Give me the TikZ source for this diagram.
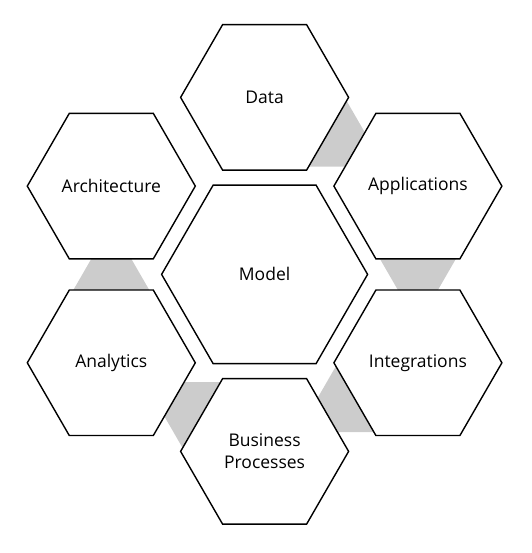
\documentclass[tikz,border=0pt]{standalone}
\usepackage{fontspec}
\setmainfont{Open Sans}
\usetikzlibrary{shapes.geometric,calc}
\definecolor{tipgray}{RGB}{204,204,204}
\begin{document}
\begin{tikzpicture}[x=1pt,y=1pt,
  hexa/.style={regular polygon, regular polygon sides=6, draw=black, line width=1.4pt,
    fill=white, inner sep=0pt, minimum size=168pt, align=center,
    font=\fontsize{17.5}{21.7}\selectfont},
  bighexa/.style={hexa, minimum size=206pt},
  tip/.style={fill=tipgray}]
\useasboundingbox (0,0) rectangle (531,553);
% centres
\coordinate (cM) at (264.6,278.6);
\coordinate (cD) at (264.6,455.6);
\coordinate (cAp) at (417.9,366.9);
\coordinate (cI) at (417.9,190.2);
\coordinate (cB) at (264.6,101.6);
\coordinate (cAn) at (111.3,190.2);
\coordinate (cAr) at (111.3,366.9);
% grey connecting tips
\fill[tip] ($(cD)+(-30:138.56)$) -- ($(cD)+(-60:80)$) -- ($(cD)+(0:80)$) -- cycle;
\fill[tip] ($(cAp)+(-90:138.56)$) -- ($(cAp)+(-120:80)$) -- ($(cAp)+(-60:80)$) -- cycle;
\fill[tip] ($(cI)+(210:138.56)$) -- ($(cI)+(180:80)$) -- ($(cI)+(240:80)$) -- cycle;
\fill[tip] ($(cB)+(150:138.56)$) -- ($(cB)+(120:80)$) -- ($(cB)+(180:80)$) -- cycle;
\fill[tip] ($(cAn)+(90:138.56)$) -- ($(cAn)+(60:80)$) -- ($(cAn)+(120:80)$) -- cycle;
% hexagons
\node[bighexa] (model) at (cM) {Model};
\node[hexa] (data) at (cD) {Data};
\node[hexa] (apps) at (cAp) {Applications};
\node[hexa] (integ) at (cI) {Integrations};
\node[hexa] (bus) at (cB) {Business\\Processes};
\node[hexa] (anal) at (cAn) {Analytics};
\node[hexa] (arch) at (cAr) {Architecture};
\end{tikzpicture}
\end{document}
